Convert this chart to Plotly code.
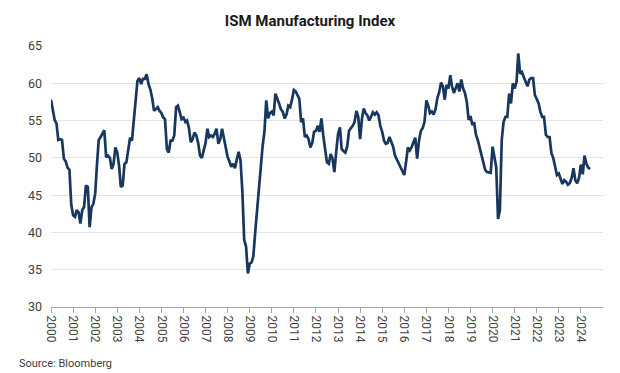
import plotly.graph_objects as go
import pandas as pd

# Monthly ISM Manufacturing PMI, Jan 2000 - Jun 2024
v2000 = [57.8, 56.3, 55.1, 54.6, 52.4, 52.5, 52.4, 49.9, 49.5, 48.7, 48.4, 43.7]
v2001 = [42.3, 42.1, 43.0, 42.7, 41.2, 43.0, 43.4, 46.3, 46.1, 40.7, 43.4, 43.8]
v2002 = [45.2, 49.3, 52.4, 52.8, 53.3, 53.7, 50.1, 50.3, 50.0, 48.5, 49.2, 51.4]
v2003 = [50.7, 48.9, 46.1, 46.3, 49.2, 49.4, 51.0, 52.7, 52.3, 54.9, 57.4, 60.3]
v2004 = [60.7, 59.9, 60.6, 60.6, 61.2, 59.9, 59.2, 58.0, 56.3, 56.5, 56.8, 56.3]
v2005 = [56.0, 55.4, 55.2, 51.2, 50.7, 52.3, 52.3, 53.0, 56.8, 57.0, 56.0, 55.2]
v2006 = [55.4, 54.8, 55.0, 54.0, 52.1, 52.5, 53.4, 53.0, 52.0, 50.3, 50.0, 51.0]
v2007 = [52.0, 53.9, 52.8, 53.0, 52.8, 53.2, 53.9, 51.9, 52.5, 53.9, 52.5, 51.2]
v2008 = [50.1, 49.5, 48.8, 49.2, 48.6, 49.8, 50.8, 49.7, 45.5, 39.0, 38.1, 34.5]
v2009 = [35.8, 36.0, 36.8, 40.0, 43.0, 46.1, 48.9, 51.5, 53.5, 57.7, 55.3, 56.0]
v2010 = [56.2, 55.7, 58.6, 58.0, 57.3, 56.5, 56.2, 55.3, 55.8, 57.0, 56.8, 57.8]
v2011 = [59.1, 58.9, 58.4, 57.9, 54.8, 55.3, 52.8, 53.0, 52.5, 51.4, 52.0, 53.5]
v2012 = [53.6, 54.3, 53.5, 55.3, 53.0, 51.0, 49.4, 49.2, 50.5, 49.9, 48.1, 50.8]
v2013 = [53.2, 54.1, 51.2, 50.9, 50.7, 51.5, 53.6, 54.0, 54.3, 54.8, 56.3, 55.5]
v2014 = [52.5, 55.3, 56.6, 56.0, 55.7, 55.0, 55.6, 56.1, 55.8, 56.1, 55.7, 54.3]
v2015 = [53.5, 52.3, 51.9, 52.0, 52.8, 52.1, 51.5, 50.3, 49.8, 49.2, 48.8, 48.2]
v2016 = [47.7, 49.5, 51.4, 51.0, 51.4, 52.1, 52.7, 49.9, 52.3, 53.6, 54.0, 54.8]
v2017 = [57.7, 57.0, 56.0, 56.2, 55.8, 56.5, 58.0, 58.8, 60.1, 59.6, 57.8, 59.8]
v2018 = [59.3, 61.1, 59.6, 58.7, 59.3, 60.0, 58.9, 60.5, 59.3, 58.7, 57.5, 55.1]
v2019 = [55.6, 54.4, 54.8, 53.1, 52.4, 51.3, 50.4, 49.3, 48.4, 48.1, 48.0, 48.0]
v2020 = [51.5, 50.1, 48.8, 41.8, 43.0, 52.4, 54.8, 55.5, 55.5, 58.6, 57.3, 60.0]
v2021 = [59.3, 60.2, 64.0, 61.3, 61.5, 60.8, 60.2, 59.6, 60.5, 60.7, 60.7, 58.4]
v2022 = [57.9, 57.3, 56.2, 55.5, 55.5, 53.1, 52.8, 52.8, 50.6, 50.0, 48.8, 47.7]
v2023 = [47.9, 47.0, 46.5, 47.0, 46.8, 46.4, 46.6, 47.3, 48.6, 47.0, 46.6, 47.3]
v2024 = [49.1, 47.8, 50.3, 49.2, 48.7, 48.5]

values = (v2000 + v2001 + v2002 + v2003 + v2004 + v2005 + v2006 + v2007 + v2008
          + v2009 + v2010 + v2011 + v2012 + v2013 + v2014 + v2015 + v2016 + v2017
          + v2018 + v2019 + v2020 + v2021 + v2022 + v2023 + v2024)
dates = pd.date_range("2000-01-01", periods=len(values), freq="MS")

tick_years = [str(y) for y in range(2000, 2025)]
tick_vals = [f"{y}-01-01" for y in range(2000, 2025)]

fig = go.Figure()
fig.add_trace(go.Scatter(
    x=dates, y=values, mode="lines",
    line=dict(color="#17375E", width=2.7),
    hoverinfo="skip", showlegend=False,
))

fig.update_layout(
    width=620, height=373,
    margin=dict(l=51, r=17, t=46, b=66),
    paper_bgcolor="white", plot_bgcolor="white",
    font=dict(family="Roboto", size=12, color="#404040"),
    title=dict(text="<b>ISM Manufacturing Index</b>", x=0.5, xanchor="center",
               y=0.945, yanchor="middle",
               font=dict(family="Roboto", size=15, color="#1a1a1a")),
    showlegend=False,
)
fig.update_xaxes(
    type="date", range=["2000-01-01", "2025-01-01"],
    tickmode="array", tickvals=tick_vals, ticktext=tick_years,
    tickangle=90, ticks="outside", ticklen=5, tickcolor="#a6a6a6",
    showline=True, linecolor="#a6a6a6", linewidth=1.2,
    showgrid=False, zeroline=False,
    tickfont=dict(family="Roboto", size=12, color="#404040"),
)
fig.update_yaxes(
    range=[30, 65], dtick=5, tick0=30,
    showgrid=True, gridcolor="#e3e3e3", gridwidth=1,
    zeroline=False, showline=False, ticks="",
    ticklabelstandoff=8,
    tickfont=dict(family="Roboto", size=12.5, color="#404040"),
)
fig.add_annotation(
    text="Source: Bloomberg", xref="paper", yref="paper",
    x=-34/552, y=-(363-306.7)/261, xanchor="left", yanchor="middle",
    showarrow=False, font=dict(family="Roboto", size=11, color="#404040"),
)

fig.write_html("out.html", config={"displayModeBar": False, "staticPlot": True},
               post_script="document.body.style.margin='0';document.body.style.padding='0';")
